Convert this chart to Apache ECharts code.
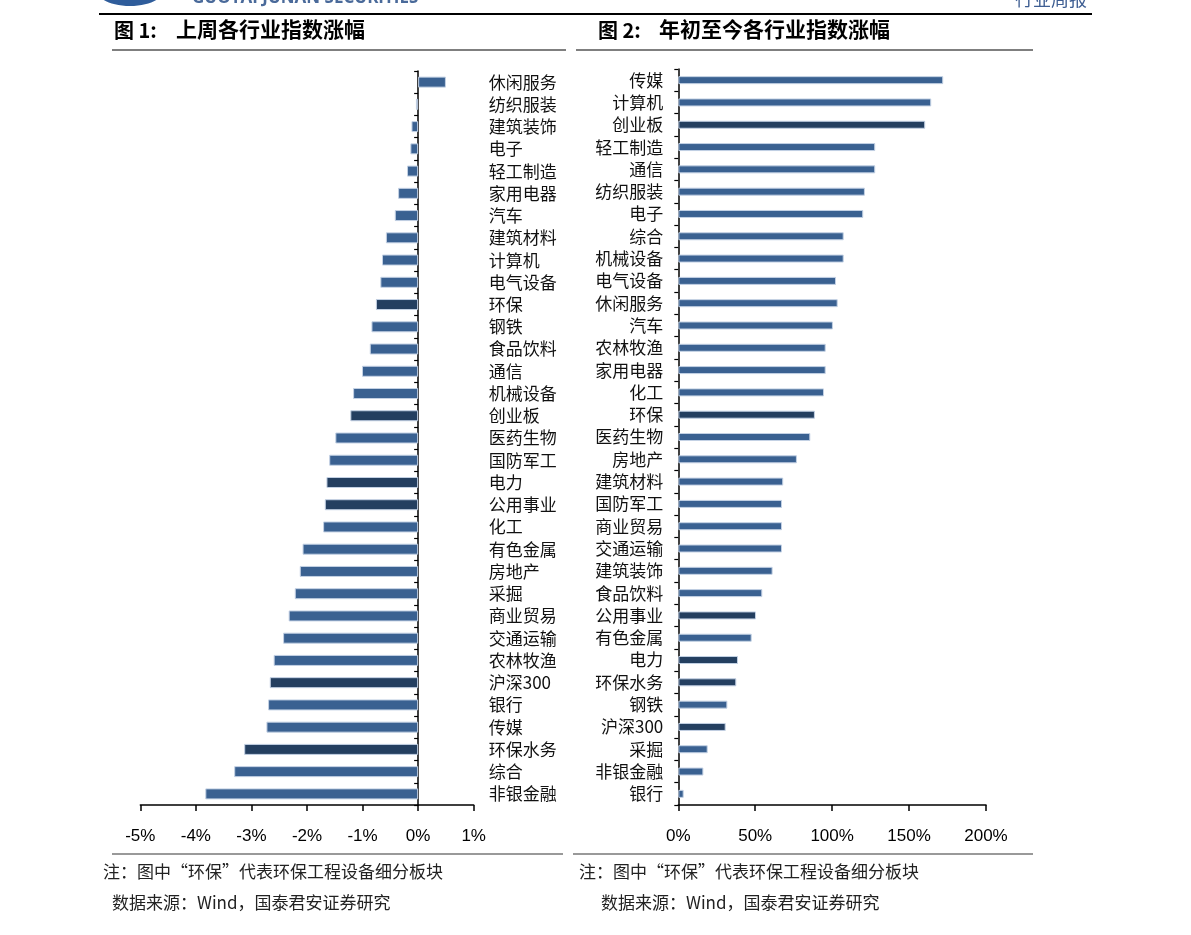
<!DOCTYPE html>
<html><head><meta charset="utf-8">
<script src="https://cdn.jsdelivr.net/npm/echarts@6/dist/echarts.min.js"></script>
<style>html,body{margin:0;padding:0;background:#fff;}#c{width:1191px;height:935px;}</style>
</head><body><div id="c"></div>
<script>
// ---- Data ----
const leftCats = ['休闲服务','纺织服装','建筑装饰','电子','轻工制造','家用电器','汽车','建筑材料','计算机','电气设备','环保','钢铁','食品饮料','通信','机械设备','创业板','医药生物','国防军工','电力','公用事业','化工','有色金属','房地产','采掘','商业贸易','交通运输','农林牧渔','沪深300','银行','传媒','环保水务','综合','非银金融'];
const leftVals = [0.50,-0.04,-0.12,-0.14,-0.20,-0.36,-0.42,-0.58,-0.65,-0.68,-0.76,-0.84,-0.87,-1.01,-1.17,-1.22,-1.49,-1.60,-1.65,-1.68,-1.71,-2.08,-2.13,-2.22,-2.33,-2.43,-2.60,-2.67,-2.70,-2.73,-3.13,-3.31,-3.83];
const rightCats = ['传媒','计算机','创业板','轻工制造','通信','纺织服装','电子','综合','机械设备','电气设备','休闲服务','汽车','农林牧渔','家用电器','化工','环保','医药生物','房地产','建筑材料','国防军工','商业贸易','交通运输','建筑装饰','食品饮料','公用事业','有色金属','电力','环保水务','钢铁','沪深300','采掘','非银金融','银行'];
const rightVals = [172.2,164.4,160.5,128.0,128.0,121.3,120.2,107.5,107.5,102.5,103.6,100.5,95.8,95.8,94.7,88.8,85.8,77.1,68.2,67.4,67.4,67.4,61.3,54.6,50.5,47.7,38.8,37.7,31.9,30.8,19.1,16.3,3.5];
const darkCats = ['环保','创业板','电力','公用事业','沪深300','环保水务'];
const leftTicks = [-5,-4,-3,-2,-1,0,1];
const rightTicks = [0,50,100,150,200];

const NORMAL = '#3A6191', DARK = '#243F60';
function barData(cats, vals){
  return vals.map((v,i)=>({value:v, itemStyle:{color: darkCats.includes(cats[i]) ? DARK : NORMAL}}));
}
const catFont = {fontFamily:'"Noto Sans CJK SC"', fontSize:17, color:'#111'};
const numFont = {fontFamily:'"Liberation Sans", Arial', fontSize:17, color:'#000'};

const chart = echarts.init(document.getElementById('c'), null, {renderer:'canvas'});
const W = 1191, H = 935;
const option = {
  animation:false,
  backgroundColor:'#fff',
  grid:[
    {left:140.3, right:W-473.7, top:71, bottom:H-805},
    {left:678.3, right:W-986, top:69, bottom:H-805}
  ],
  xAxis:[
    {gridIndex:0, type:'value', min:leftTicks[0], max:leftTicks[leftTicks.length-1], interval:1,
     axisLine:{show:true, onZero:false, lineStyle:{color:'#000', width:1.5}}, axisTick:{show:true, length:6, lineStyle:{color:'#000', width:1.5}},
     splitLine:{show:false}, axisLabel:Object.assign({margin:23, formatter:'{value}%'}, numFont)},
    {gridIndex:1, type:'value', min:rightTicks[0], max:rightTicks[rightTicks.length-1], interval:50,
     axisLine:{show:true, onZero:false, lineStyle:{color:'#000', width:1.5}}, axisTick:{show:true, length:6, lineStyle:{color:'#000', width:1.5}},
     splitLine:{show:false}, axisLabel:Object.assign({margin:23, formatter:'{value}%'}, numFont)}
  ],
  yAxis:[
    {gridIndex:0, type:'category', data:leftCats, inverse:true, position:'left',
     axisLine:{show:true, onZero:true, lineStyle:{color:'#000', width:1.5}},
     axisTick:{show:true, length:4, lineStyle:{color:'#000', width:1.2}}, axisLabel:{show:false}},
    {gridIndex:0, type:'category', data:leftCats, inverse:true, position:'right',
     axisLine:{show:false, onZero:false}, axisTick:{show:false},
     axisLabel:Object.assign({margin:15, align:'left'}, catFont)},
    {gridIndex:1, type:'category', data:rightCats, inverse:true, position:'left',
     axisLine:{show:true, onZero:true, lineStyle:{color:'#000', width:1.5}},
     axisTick:{show:true, length:4, lineStyle:{color:'#000', width:1.2}},
     axisLabel:Object.assign({margin:15}, catFont)}
  ],
  series:[
    {type:'bar', xAxisIndex:0, yAxisIndex:0, data:barData(leftCats,leftVals), barWidth:11,
     itemStyle:{borderColor:'#c3d1e4', borderWidth:1}},
    {type:'bar', xAxisIndex:1, yAxisIndex:2, data:barData(rightCats,rightVals), barWidth:8,
     itemStyle:{borderColor:'#c3d1e4', borderWidth:1}}
  ],
  graphic:[
    // header remnants (cut off at top)
    {type:'ellipse', shape:{cx:130, cy:-8, rx:32, ry:14}, style:{fill:'#2F5D9B'}},
    {type:'text', left:192, top:-10, style:{text:'GUOTAI JUNAN SECURITIES', font:'bold 17px "Open Sans", Arial', fill:'#4A6A9A'}},
    {type:'text', left:1015, top:-10, style:{text:'行业周报', font:'18px "Noto Sans CJK SC"', fill:'#3E5E92'}},
    {type:'line', shape:{x1:99, y1:14, x2:1092, y2:14}, style:{stroke:'#000', lineWidth:2}},
    // titles
    {type:'text', left:114, top:20, style:{text:'图 1:', font:'bold 20px "Noto Sans CJK SC"', fill:'#000'}},
    {type:'text', left:176, top:19, style:{text:'上周各行业指数涨幅', font:'bold 21px "Noto Sans CJK SC"', fill:'#000'}},
    {type:'text', left:598, top:20, style:{text:'图 2:', font:'bold 20px "Noto Sans CJK SC"', fill:'#000'}},
    {type:'text', left:659, top:19, style:{text:'年初至今各行业指数涨幅', font:'bold 21px "Noto Sans CJK SC"', fill:'#000'}},
    {type:'line', shape:{x1:112, y1:50, x2:566, y2:50}, style:{stroke:'#555', lineWidth:1.5}},
    {type:'line', shape:{x1:576, y1:50, x2:1033, y2:50}, style:{stroke:'#555', lineWidth:1.5}},
    // footer
    {type:'line', shape:{x1:112, y1:854, x2:563, y2:854}, style:{stroke:'#777', lineWidth:1.5}},
    {type:'line', shape:{x1:573, y1:854, x2:1033, y2:854}, style:{stroke:'#777', lineWidth:1.5}},
    {type:'text', left:103, top:863, style:{text:'注：图中“环保”代表环保工程设备细分板块', font:'17px "Noto Sans CJK SC"', fill:'#222'}},
    {type:'text', left:112, top:894, style:{text:'数据来源：Wind，国泰君安证券研究', font:'17px "Noto Sans CJK SC"', fill:'#222'}},
    {type:'text', left:579, top:863, style:{text:'注：图中“环保”代表环保工程设备细分板块', font:'17px "Noto Sans CJK SC"', fill:'#222'}},
    {type:'text', left:601, top:894, style:{text:'数据来源：Wind，国泰君安证券研究', font:'17px "Noto Sans CJK SC"', fill:'#222'}}
  ]
};
chart.setOption(option);
</script></body></html>
